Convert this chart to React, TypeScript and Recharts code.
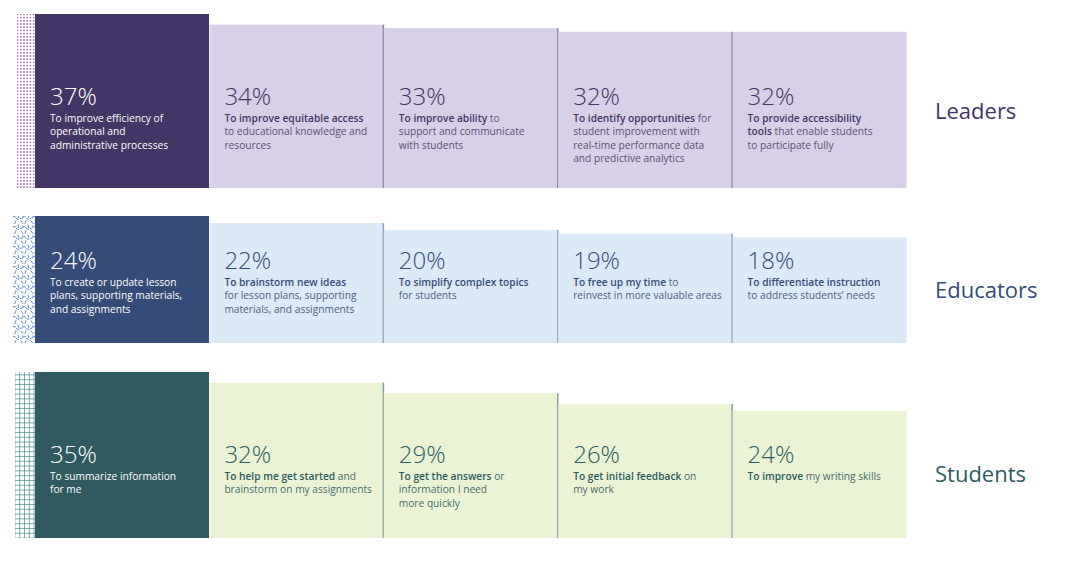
import React from "react";
import { Bar, BarChart, XAxis, YAxis } from "recharts";

// survey reasons per group, share of respondents (%)
const leaderValues = [37, 34, 33, 32, 32];
const leaderTexts = [
  "To improve efficiency of\noperational and\nadministrative processes",
  "**To improve equitable access**\nto educational knowledge and\nresources",
  "**To improve ability** to\nsupport and communicate\nwith students",
  "**To identify opportunities** for\nstudent improvement with\nreal-time performance data\nand predictive analytics",
  "**To provide accessibility\ntools** that enable students\nto participate fully",
];

const educatorValues = [24, 22, 20, 19, 18];
const educatorTexts = [
  "To create or update lesson\nplans, supporting materials,\nand assignments",
  "**To brainstorm new ideas**\nfor lesson plans, supporting\nmaterials, and assignments",
  "**To simplify complex topics**\nfor students",
  "**To free up my time** to\nreinvest in more valuable areas",
  "**To differentiate instruction**\nto address students\u2019 needs",
];

const studentValues = [35, 32, 29, 26, 24];
const studentTexts = [
  "To summarize information\nfor me",
  "**To help me get started** and\nbrainstorm on my assignments",
  "**To get the answers** or\ninformation I need\nmore quickly",
  "**To get initial feedback** on\nmy work",
  "**To improve** my writing skills",
];

const groupNames = ["Leaders", "Educators", "Students"];

const FONT = "'Segoe UI', 'Open Sans', sans-serif";
const BASE = -12; // bars hang from a floor below zero

interface Seg { text: string; bold: boolean }

// "**bold**" markup, bold may run across line breaks
function parseRich(src: string): Seg[][] {
  const lines: Seg[][] = [[]];
  src.split("**").forEach((part, i) => {
    const bold = i % 2 === 1;
    part.split("\n").forEach((piece, j) => {
      if (j > 0) lines.push([]);
      if (piece) lines[lines.length - 1].push({ text: piece, bold });
    });
  });
  return lines;
}

interface RowStyle {
  id: string;
  dark: string;
  light: string;
  rule: string;
  ink: string;
  body: string;
  top: number;
  height: number;
  mTop: number;
  mBottom: number;
  textY: number;
  labelY: number;
  patX: number;
}

const rows: { values: number[]; texts: string[]; name: string; style: RowStyle }[] = [
  {
    values: leaderValues,
    texts: leaderTexts,
    name: groupNames[0],
    style: {
      id: "lead", dark: "#433565", light: "#d8d0e8", rule: "#8a7fa8", ink: "#433565", body: "#5b5275",
      top: 0, height: 200, mTop: 14, mBottom: 12, textY: 105, labelY: 119, patX: 17,
    },
  },
  {
    values: educatorValues,
    texts: educatorTexts,
    name: groupNames[1],
    style: {
      id: "edu", dark: "#344c77", light: "#dce9f6", rule: "#8ea2c0", ink: "#344c77", body: "#4f6280",
      top: 200, height: 160, mTop: 16, mBottom: 17, textY: 69, labelY: 98, patX: 13,
    },
  },
  {
    values: studentValues,
    texts: studentTexts,
    name: groupNames[2],
    style: {
      id: "stu", dark: "#2e5a60", light: "#eaf4d4", rule: "#86a29e", ink: "#2e5a60", body: "#4b6a6c",
      top: 360, height: 200, mTop: 12, mBottom: 22, textY: 103, labelY: 122, patX: 15,
    },
  },
];

function Patterns({ id }: { id: string }) {
  if (id === "lead")
    return (
      <pattern id="lead-pat" patternUnits="userSpaceOnUse" width={3.2} height={3.2}>
        <circle cx={1.6} cy={1.6} r={0.85} fill="#9c4f9a" />
      </pattern>
    );
  if (id === "edu")
    return (
      <pattern id="edu-pat" patternUnits="userSpaceOnUse" width={10} height={10}>
        <path
          d="M1,1 l2,2.5 M6,0.5 l-1,3 M2.5,6 l3,1 M8,5 l1,3 M0.5,8.5 l2.5,-1 M6.5,8.5 l2,1"
          stroke="#4d80d4"
          strokeWidth={0.9}
          strokeLinecap="round"
        />
      </pattern>
    );
  return (
    <pattern id="stu-pat" patternUnits="userSpaceOnUse" width={4.8} height={4.8}>
      <path d="M0,0.4 H4.8 M0.4,0 V4.8" stroke="#4f8e8e" strokeWidth={0.8} />
    </pattern>
  );
}

function makeShape(s: RowStyle, count: number) {
  return (props: any) => {
    const { x, y, width, height, index, background, payload } = props;
    const bottom = background ? background.y + background.height : y + height;
    const first = index === 0;
    const lines = parseRich(payload.text);
    const tx = x + 15;
    return (
      <g>
        {first && (
          <rect x={s.patX} y={y} width={x - s.patX} height={bottom - y} fill={`url(#${s.id}-pat)`} />
        )}
        <rect x={x} y={y} width={width} height={bottom - y} fill={first ? s.dark : s.light} />
        {index > 0 && index < count - 1 && (
          <line x1={x + width} x2={x + width} y1={y} y2={bottom} stroke={s.rule} strokeWidth={1.5} />
        )}
        <text x={tx} y={s.textY} fontFamily={FONT} fontSize={24} fontWeight={300} fill={first ? "#ffffff" : s.ink}>
          {payload.value}%
        </text>
        <text x={tx} y={s.textY + 17} fontFamily={FONT} fontSize={10.2} fill={first ? "#ffffff" : s.body}>
          {lines.map((segs, i) => (
            <tspan key={i} x={tx} dy={i === 0 ? 0 : 13.4}>
              {segs.map((seg, j) => (
                <tspan key={j} fontWeight={seg.bold ? 600 : 400} fill={seg.bold ? s.ink : undefined}>
                  {seg.text}
                </tspan>
              ))}
            </tspan>
          ))}
        </text>
      </g>
    );
  };
}

export default function App() {
  return (
    <div style={{ position: "absolute", left: 0, top: 0, width: 1065, height: 563, background: "#fff" }}>
      {rows.map((row) => {
        const s = row.style;
        const data = row.values.map((v, i) => ({ key: `${row.name}-${i}`, value: v, text: row.texts[i] }));
        return (
          <div key={s.id} style={{ position: "absolute", left: 0, top: s.top }}>
            <BarChart
              width={1065}
              height={s.height}
              data={data}
              barCategoryGap={0}
              barGap={0}
              margin={{ top: s.mTop, bottom: s.mBottom, left: 35, right: 158 }}
            >
              <defs>
                <Patterns id={s.id} />
              </defs>
              <XAxis dataKey="key" hide />
              <YAxis hide domain={[BASE, Math.max(...row.values)]} />
              <Bar dataKey="value" isAnimationActive={false} shape={makeShape(s, data.length)} />
              <text x={935} y={s.labelY} fontFamily={FONT} fontSize={22} fill={s.ink}>
                {row.name}
              </text>
            </BarChart>
          </div>
        );
      })}
    </div>
  );
}
